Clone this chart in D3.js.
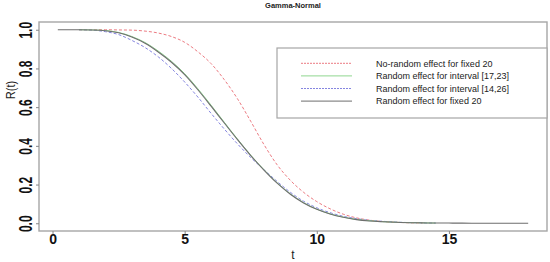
<!DOCTYPE html>
<html>
<head>
<meta charset="utf-8">
<script src="https://cdn.jsdelivr.net/npm/d3@7"></script>
<style>
	body { margin: 0; background: #fff; }
	svg { display: block; font-family: "Liberation Sans", Arial, sans-serif; }
</style>
</head>
<body>
<div id="chart-area"></div>
<script>
/*
* Gamma-Normal reliability curves
*/

// time grid shared by all series (null = no point drawn)
const tValues = [0.2, 1, 1.5, 2, 2.5, 3, 3.5, 4, 4.5, 5, 5.5, 6, 6.5, 7, 7.5, 8,
	8.5, 9, 9.5, 10, 10.5, 11, 11.5, 12, 12.5, 13, 14, 14.5, 15, 16, 17, 18]

const noRandomFixed20 = [null, 1, 1, 1, 0.999, 0.998, 0.993, 0.983, 0.965, 0.935, 0.886, 0.825,
	0.742, 0.643, 0.527, 0.407, 0.302, 0.222, 0.16, 0.112, 0.075, 0.047, 0.028, 0.016,
	0.009, 0.005, 0.001, null, null, null, null, null]

const randomInterval1723 = [null, 1, 0.999, 0.996, 0.986, 0.965, 0.934, 0.89, 0.837, 0.773, 0.695, 0.61,
	0.522, 0.435, 0.352, 0.277, 0.209, 0.152, 0.107, 0.073, 0.049, 0.032, 0.02, 0.013,
	0.008, 0.005, 0.002, 0.001, null, null, null, null]

const randomInterval1426 = [null, 1, 0.998, 0.99, 0.975, 0.945, 0.908, 0.86, 0.80, 0.73, 0.652, 0.568,
	0.487, 0.41, 0.34, 0.277, 0.216, 0.16, 0.114, 0.08, 0.055, 0.036, 0.024, 0.015,
	0.01, 0.006, 0.002, 0.001, null, null, null, null]

const randomFixed20 = [1, 1, 0.999, 0.995, 0.984, 0.962, 0.93, 0.885, 0.832, 0.768, 0.69, 0.605,
	0.518, 0.432, 0.35, 0.275, 0.207, 0.15, 0.105, 0.072, 0.048, 0.031, 0.019, 0.012,
	0.008, 0.005, 0.002, 0.001, 0.001, 0, 0, 0]

const seriesNames = ["No-random effect for fixed 20", "Random effect for interval [17,23]",
	"Random effect for interval [14,26]", "Random effect for fixed 20"]
const seriesColors = ["#ec7b82", "#8fd68f", "#8585e0", "#6e6e6e"]
const seriesDash = ["3,2", null, "3,2", null]

const xTicks = [0, 5, 10, 15]
const yTicks = [0, 0.2, 0.4, 0.6, 0.8, 1.0]

const W = 550, H = 262
const plot = { left: 39, right: 547, top: 22, bottom: 231 }

const svg = d3.select("#chart-area")
	.append("svg")
		.attr("width", W)
		.attr("height", H)

const x = d3.scaleLinear()
	.domain([-0.512, 18.712])
	.range([plot.left, plot.right])

const y = d3.scaleLinear()
	.domain([-0.04, 1.04])
	.range([plot.bottom, plot.top])

const allSeries = [noRandomFixed20, randomInterval1723, randomInterval1426, randomFixed20]

const line = d3.line()
	.defined(d => d[1] !== null)
	.x(d => x(d[0]))
	.y(d => y(d[1]))
	.curve(d3.curveMonotoneX)

// Curves (gray solid drawn last so it sits on top like the original)
const drawOrder = [0, 2, 1, 3]
drawOrder.forEach(k => {
	const pts = tValues.map((t, j) => [t, allSeries[k][j]])
	svg.append("path")
		.datum(pts)
		.attr("fill", "none")
		.attr("stroke", seriesColors[k])
		.attr("stroke-width", k === 3 ? 1.1 : 1)
		.attr("stroke-dasharray", seriesDash[k])
		.attr("d", line)
})

// Plot box
svg.append("rect")
	.attr("x", plot.left)
	.attr("y", plot.top)
	.attr("width", plot.right - plot.left)
	.attr("height", plot.bottom - plot.top)
	.attr("fill", "none")
	.attr("stroke", "#a6a6a6")
	.attr("stroke-width", 1.4)

// Axes
const xAxisCall = d3.axisBottom(x)
	.tickValues(xTicks)
	.tickSize(3)
	.tickFormat(d3.format("d"))

const yAxisCall = d3.axisLeft(y)
	.tickValues(yTicks)
	.tickSize(3)
	.tickFormat(d3.format(".1f"))

const xAxisGroup = svg.append("g")
	.attr("transform", `translate(0, ${plot.bottom})`)
	.call(xAxisCall)

const yAxisGroup = svg.append("g")
	.attr("transform", `translate(${plot.left}, 0)`)
	.call(yAxisCall)

xAxisGroup.select(".domain").remove()
yAxisGroup.select(".domain").remove()
svg.selectAll(".tick line").attr("stroke", "#888")

xAxisGroup.selectAll("text")
	.attr("y", 13)
	.attr("dy", null)
	.attr("fill", "#111")
	.attr("font-size", "14px")
	.attr("font-weight", "bold")
	.attr("font-family", "Liberation Sans, Arial, sans-serif")

yAxisGroup.selectAll("text")
	.attr("x", null)
	.attr("dy", null)
	.attr("text-anchor", "middle")
	.attr("transform", "translate(-7,0) rotate(-90) scale(1,1.5)")
	.attr("fill", "#111")
	.attr("font-size", "12px")
	.attr("font-weight", "bold")
	.attr("font-family", "Liberation Sans, Arial, sans-serif")

// Title
svg.append("text")
	.attr("x", (plot.left + plot.right) / 2)
	.attr("y", 8)
	.attr("text-anchor", "middle")
	.attr("font-size", "7.5px")
	.attr("font-weight", "bold")
	.attr("fill", "#222")
	.text("Gamma-Normal")

// Axis labels
svg.append("text")
	.attr("x", 293)
	.attr("y", 259)
	.attr("text-anchor", "middle")
	.attr("font-size", "12px")
	.attr("fill", "#222")
	.text("t")

svg.append("text")
	.attr("transform", "translate(15, 90) rotate(-90) scale(1,1.15)")
	.attr("text-anchor", "middle")
	.attr("font-size", "11px")
	.attr("fill", "#222")
	.text("R(t)")

// Legend
const legend = svg.append("g")

legend.append("rect")
	.attr("x", 277)
	.attr("y", 48)
	.attr("width", plot.right - 277)
	.attr("height", 70)
	.attr("fill", "#fff")
	.attr("stroke", "#a6a6a6")
	.attr("stroke-width", 1.2)

seriesNames.forEach((name, i) => {
	const rowY = 63.3 + i * 12.6
	const legendRow = legend.append("g")
		.attr("transform", `translate(0, ${rowY})`)

	legendRow.append("line")
		.attr("x1", 301)
		.attr("x2", 352)
		.attr("y1", 0)
		.attr("y2", 0)
		.attr("stroke", seriesColors[i])
		.attr("stroke-width", 1)
		.attr("stroke-dasharray", seriesDash[i] ? "2,1" : null)

	legendRow.append("text")
		.attr("x", 376)
		.attr("y", 3.2)
		.attr("font-size", "9px")
		.attr("fill", "#222")
		.text(name)
})
</script>
</body>
</html>
